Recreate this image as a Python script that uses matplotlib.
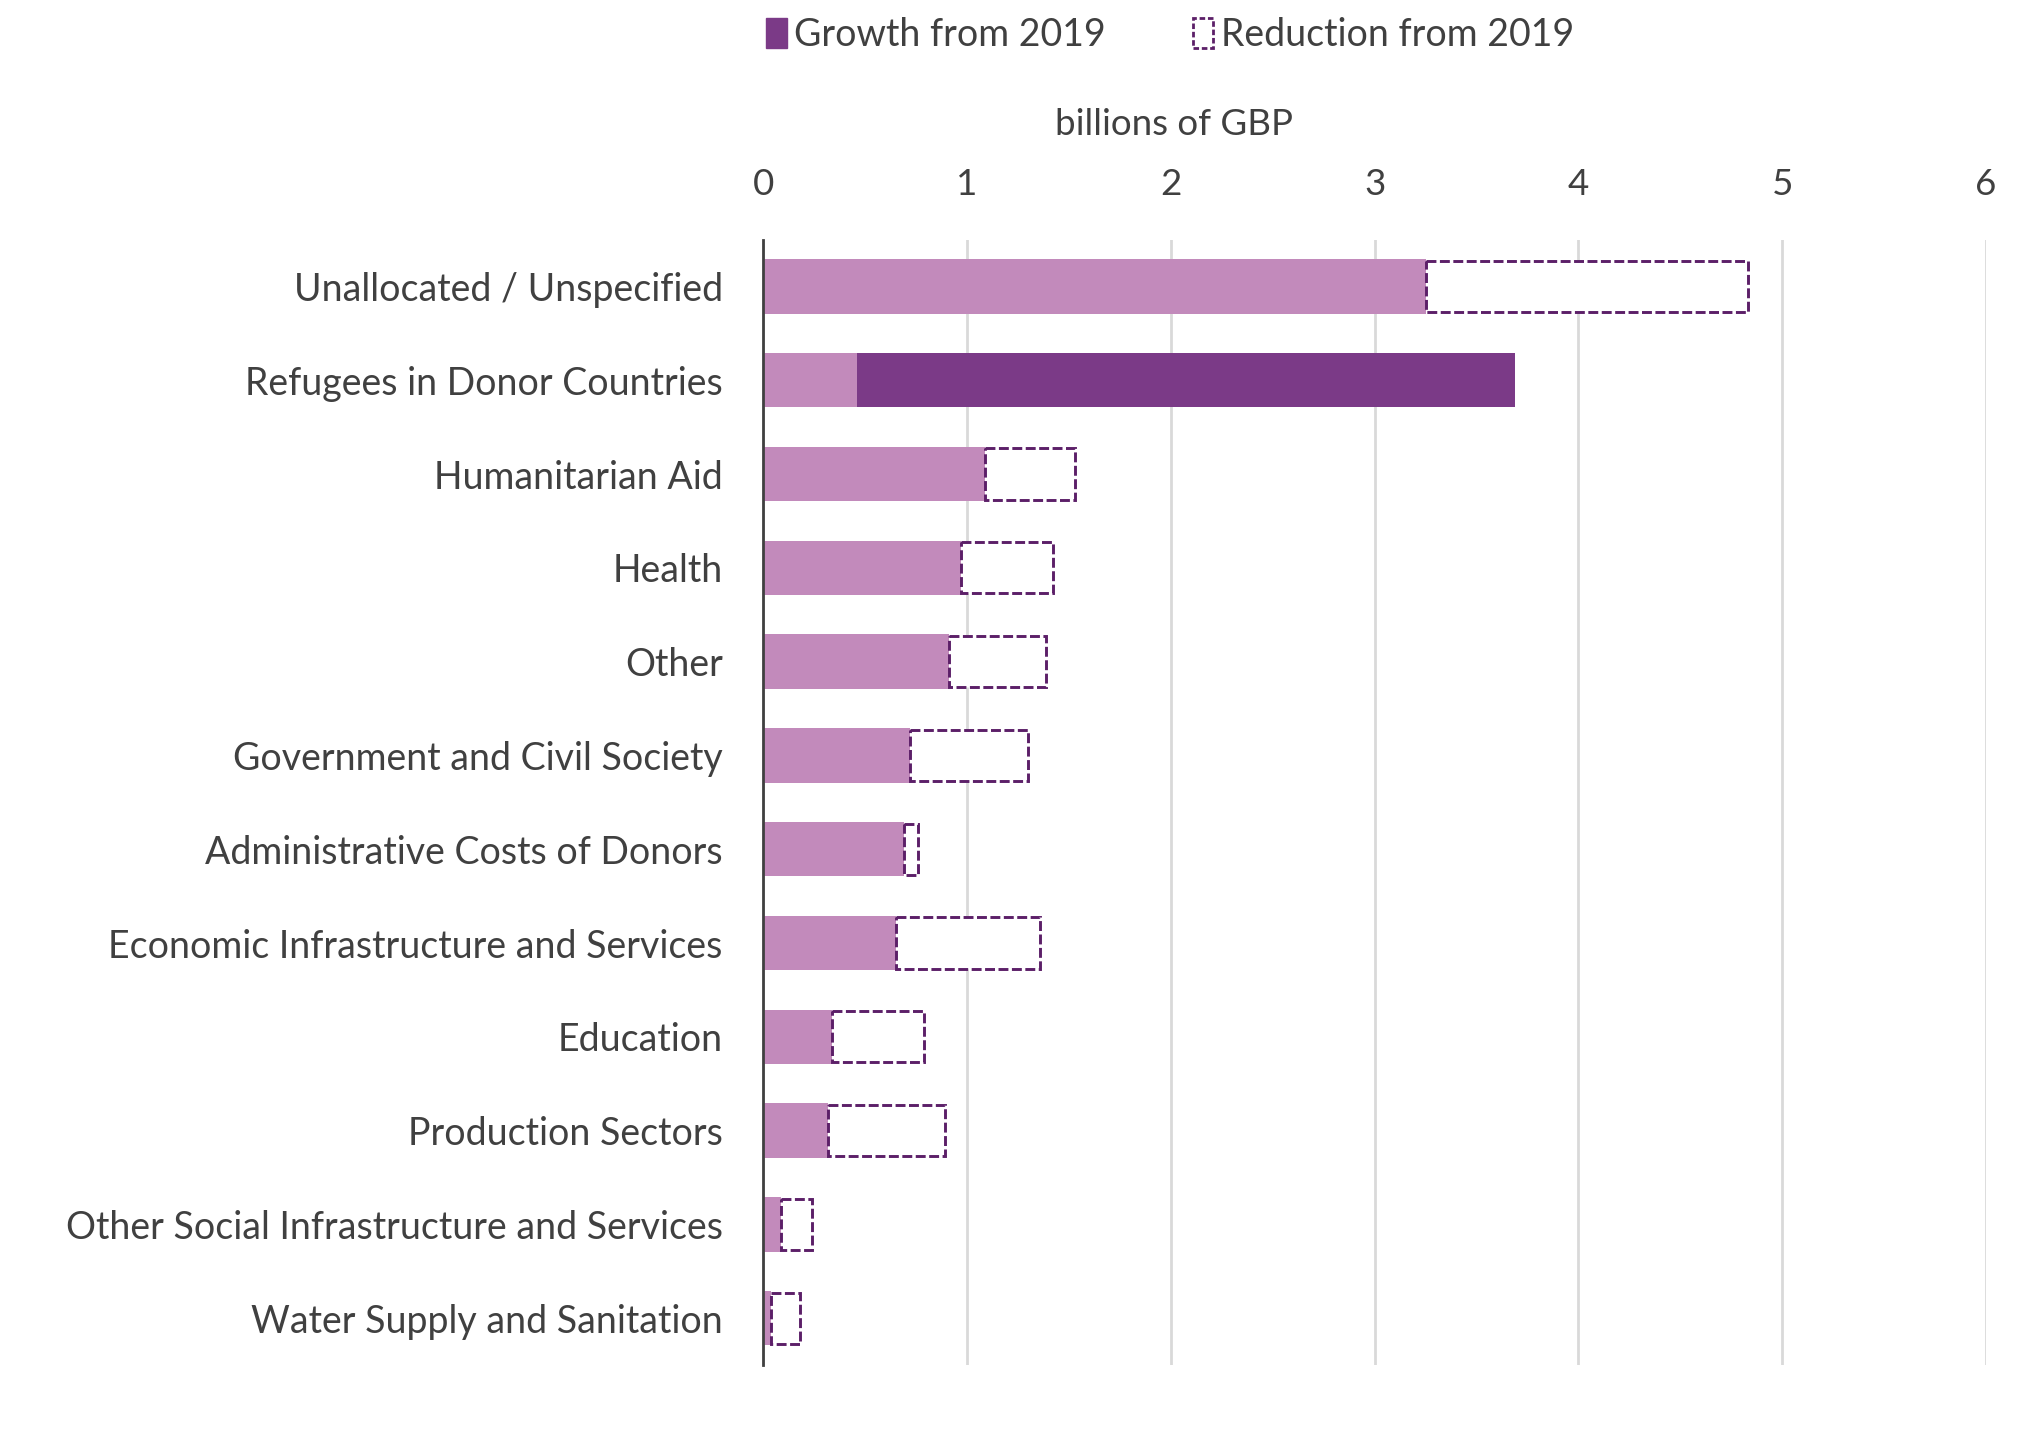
import numpy as np
import matplotlib.pyplot as plt
from matplotlib.patches import Patch

categories = [
    "Unallocated / Unspecified",
    "Refugees in Donor Countries",
    "Humanitarian Aid",
    "Health",
    "Other",
    "Government and Civil Society",
    "Administrative Costs of Donors",
    "Economic Infrastructure and Services",
    "Education",
    "Production Sectors",
    "Other Social Infrastructure and Services",
    "Water Supply and Sanitation",
]
# billions of GBP
value_2019 = [4.83, 0.46, 1.53, 1.42, 1.39, 1.30, 0.76, 1.36, 0.79, 0.89, 0.24, 0.18]
value_2020 = [3.25, 3.69, 1.09, 0.97, 0.91, 0.72, 0.69, 0.65, 0.34, 0.32, 0.09, 0.04]

PINK = "#c28abb"
DARK = "#7b3a87"
EDGE = "#5c1f68"

v19 = np.array(value_2019)
v20 = np.array(value_2020)
base = np.minimum(v19, v20)
growth = np.clip(v20 - v19, 0, None)
reduction = np.clip(v19 - v20, 0, None)

plt.rcParams['font.family'] = ['Lato', 'DejaVu Sans']

fig = plt.figure(figsize=(20.35, 14.43), dpi=100)
ax = fig.add_axes([0.375, 0.054, 0.601, 0.780])

y = np.arange(len(categories))
h = 0.58
ax.barh(y, base, height=h, color=PINK, zorder=2)
ax.barh(y, growth, left=base, height=h, color=DARK, zorder=2)
red = reduction > 0
ax.barh(y[red], reduction[red], left=base[red], height=h * 0.94,
        facecolor="white", edgecolor=EDGE, linewidth=2.1,
        linestyle=(0, (3.4, 1.2)), zorder=3)

ax.set_xlim(0, 6)
ax.set_ylim(len(categories) - 0.5, -0.5)
ax.set_yticks(y)
ax.set_yticklabels(categories, fontsize=27, color="#404040")
ax.xaxis.tick_top()
ax.set_xticks(range(7))
ax.tick_params(axis='x', length=0, pad=28, labelsize=26.5, labelcolor="#404040")
ax.tick_params(axis='y', length=0, pad=29)
ax.grid(axis='x', color="#d9d9d9", linewidth=2, zorder=0)
ax.set_axisbelow(True)
for s in ['top', 'right', 'bottom']:
    ax.spines[s].set_visible(False)
ax.spines['left'].set_color("#404040")
ax.spines['left'].set_linewidth(2)
ax.spines['left'].set_zorder(4)

fig.text(0.577, 0.914, "billions of GBP", ha='center', va='center',
         fontsize=26.5, color="#404040")

handles = [
    Patch(facecolor=DARK, edgecolor=DARK, label="Growth from 2019"),
    Patch(facecolor="white", edgecolor=EDGE, linestyle=(0, (2, 1)),
          linewidth=2, label="Reduction from 2019"),
]
fig.legend(handles=handles, loc='center', bbox_to_anchor=(0.575, 0.976),
           ncol=2, frameon=False, fontsize=27, handlelength=0.55,
           handleheight=0.85, handletextpad=0.2, columnspacing=2.3,
           labelcolor="#404040")

fig.savefig("out.png", dpi=100)
